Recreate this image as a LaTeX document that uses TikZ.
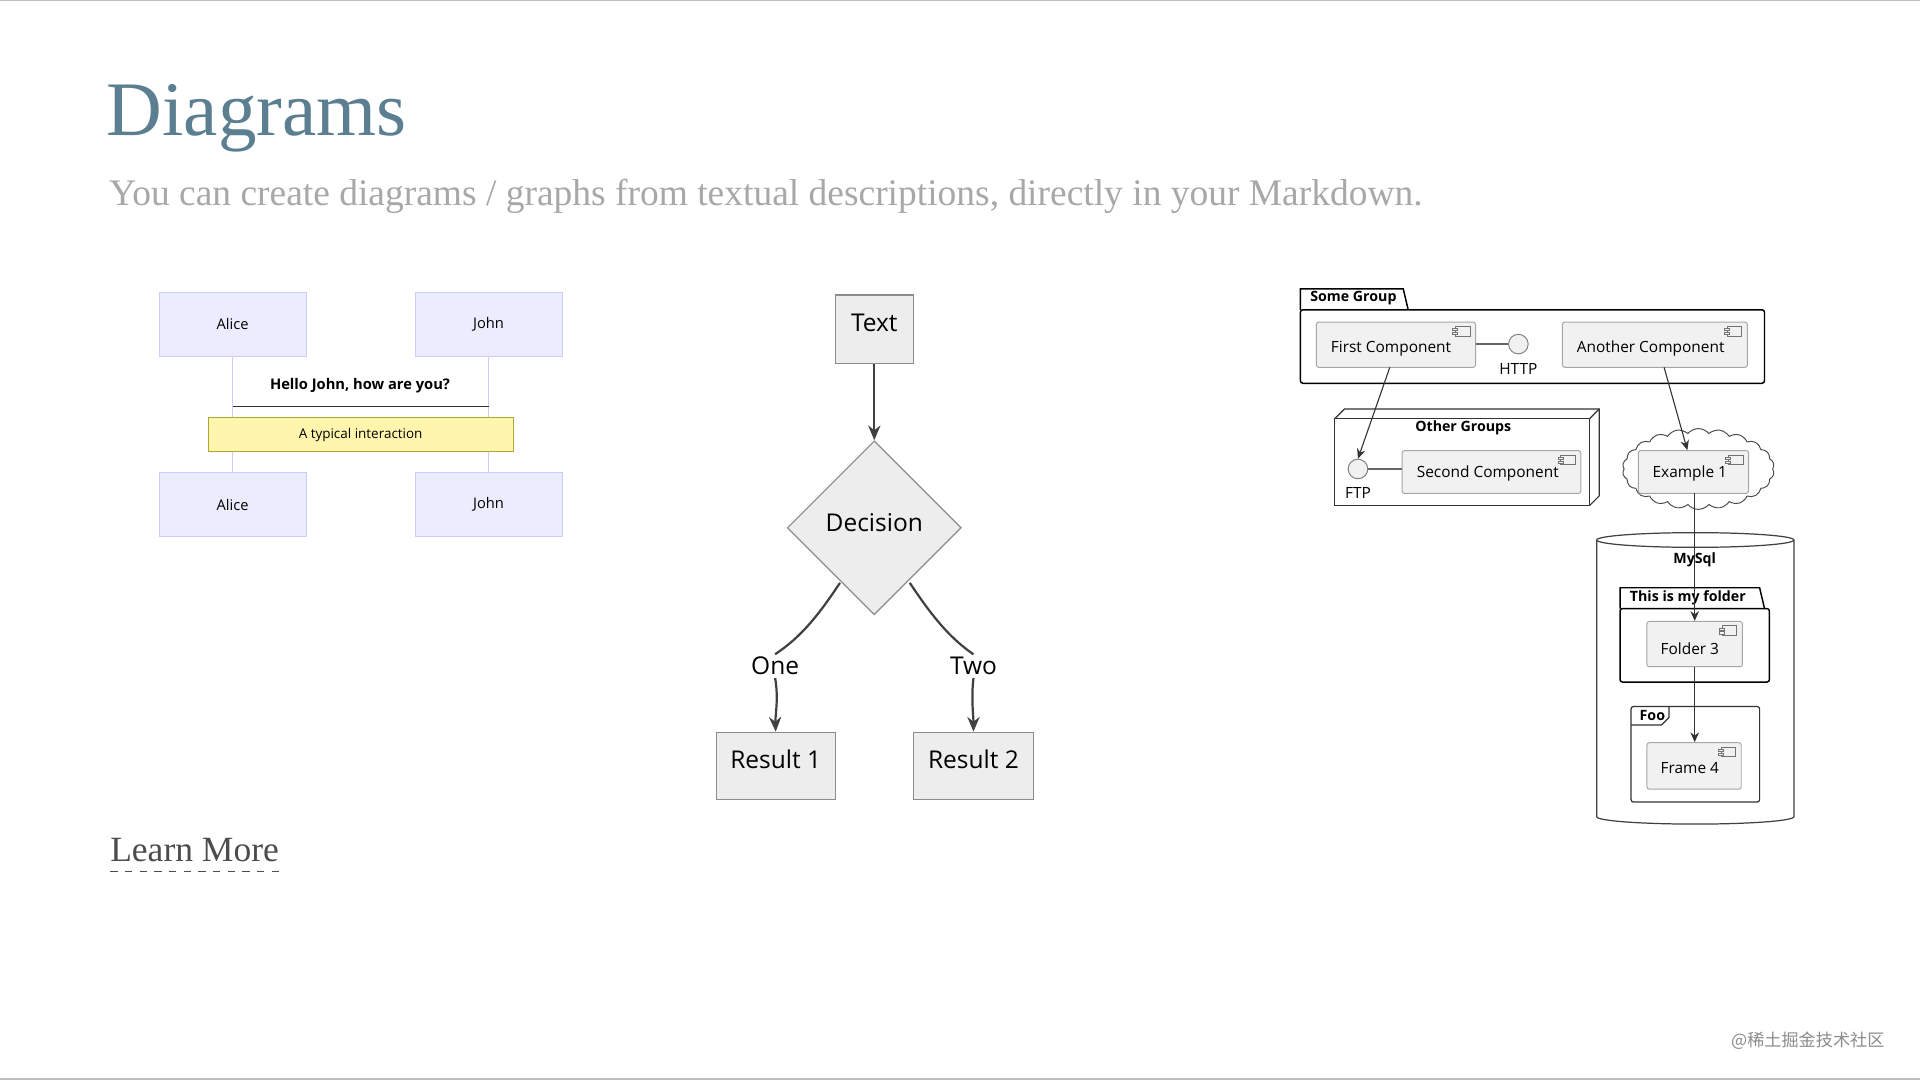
\documentclass[tikz,border=0pt]{standalone}
\usepackage{fontspec}
\setmainfont{Liberation Serif}
\newfontfamily\sansf{Open Sans}
\newfontfamily\cjk{Noto Sans CJK SC}
\usetikzlibrary{arrows.meta,shapes.geometric,shapes.symbols}
\definecolor{titlec}{HTML}{5B7F91}
\definecolor{subc}{HTML}{A8A8A8}
\definecolor{seqfill}{HTML}{ECECFF}
\definecolor{seqline}{HTML}{CCCCFF}
\definecolor{notefill}{HTML}{FFF5AD}
\definecolor{noteline}{HTML}{AAAA33}
\definecolor{cfill}{HTML}{F1F1F1}
\tikzset{
  seqbox/.style={draw=seqline,fill=seqfill,minimum width=60pt,minimum height=26pt,font=\sansf\fontsize{6}{7}\selectfont},
  flowbox/.style={draw=black!45,fill=black!7,font=\sansf\fontsize{10}{12}\selectfont,line width=0.5pt},
  comp/.style={draw=black!35,fill=cfill,rounded corners=1pt,font=\sansf\fontsize{6.3}{7}\selectfont,line width=0.4pt},
  grp/.style={draw=black,line width=0.6pt},
  grptitle/.style={font=\sansf\bfseries\fontsize{5.8}{7}\selectfont},
  arr/.style={-{Stealth[length=4pt,width=3.5pt]},black!80,line width=0.45pt},
  farr/.style={-{Stealth[length=6pt,width=5pt]},black!75,line width=0.9pt},
  lbl/.style={font=\sansf\fontsize{6.3}{7}\selectfont},
}
\newcommand{\compicon}[1]{\draw[black!55,line width=0.3pt,fill=cfill] ([xshift=-8.5pt,yshift=-2pt]#1.north east) rectangle ++(6pt,-4pt);
 \draw[black!55,line width=0.3pt,fill=cfill] ([xshift=-9.5pt,yshift=-2.9pt]#1.north east) rectangle ++(2pt,-0.9pt);
 \draw[black!55,line width=0.3pt,fill=cfill] ([xshift=-9.5pt,yshift=-4.4pt]#1.north east) rectangle ++(2pt,-0.9pt);}
\begin{document}
\begin{tikzpicture}[x=0.5pt,y=-0.5pt]
\path[use as bounding box,fill=white] (0,0) rectangle (1568,882);
\draw[black!25,line width=0.6pt] (0,0.5) -- (1568,0.5);
\draw[black!25,line width=0.6pt] (0,881) -- (1568,881);
% header
\node[anchor=west,text=titlec,font=\fontsize{31.5}{36}\selectfont] (title) at (80,97) {Diagrams};
\node[anchor=west,text=subc,font=\fontsize{15.3}{18}\selectfont] (sub) at (82,160) {You can create diagrams / graphs from textual descriptions, directly in your Markdown.};
\node[anchor=west,text=black!70,font=\fontsize{14.5}{16}\selectfont] (learn) at (83,694) {Learn More};
\draw[black!70,dashed,line width=0.5pt] (90,712) -- (233,712);
\node[anchor=east,text=black!45,font=\cjk\fontsize{7}{8}\selectfont] (wm) at (1546,850) {@稀土掘金技术社区};
% sequence
\draw[seqline,line width=0.6pt] (190,290) -- (190,386);
\draw[seqline,line width=0.6pt] (399,290) -- (399,386);
\node[seqbox] (a1) at (190,265) {Alice};
\node[seqbox] (j1) at (399,265) {John};
\node[seqbox] (a2) at (190,412) {Alice};
\node[seqbox] (j2) at (399,412) {John};
\draw[black!80,line width=0.6pt] (190,332) -- (399,332);
\node[font=\sansf\bfseries\fontsize{6}{7}\selectfont] (msg) at (294,315) {Hello John, how are you?};
\node[draw=noteline,fill=notefill,minimum width=124.5pt,minimum height=14pt,font=\sansf\fontsize{5.5}{7}\selectfont] (note) at (294.5,355) {A typical interaction};
% flowchart
\node[flowbox,minimum width=32pt,minimum height=28pt] (text) at (714,269) {};
\node[font=\sansf\fontsize{10}{12}\selectfont] at (714,264) {Text};
\node[flowbox,diamond,minimum width=71pt,minimum height=71pt,inner sep=0pt] (dec) at (714,431) {};
\node[font=\sansf\fontsize{10}{12}\selectfont] at (714,427) {Decision};
\node[flowbox,minimum width=48.5pt,minimum height=27.5pt] (r1) at (633.5,625.5) {};
\node[font=\sansf\fontsize{10}{12}\selectfont] at (633.5,620) {Result 1};
\node[flowbox,minimum width=49pt,minimum height=27.5pt] (r2) at (795,625.5) {};
\node[font=\sansf\fontsize{10}{12}\selectfont] at (795,620) {Result 2};
\node[font=\sansf\fontsize{10}{12}\selectfont,fill=white,inner sep=1pt] (one) at (633,544) {One};
\node[font=\sansf\fontsize{10}{12}\selectfont,fill=white,inner sep=1pt] (two) at (795,544) {Two};
\draw[farr] (text) -- (dec);
\draw[black!75,line width=0.9pt] (686,476) .. controls (670,500) and (655,520) .. (one.north);
\draw[farr] (one.south) .. controls (636,570) and (633,585) .. (r1.north);
\draw[black!75,line width=0.9pt] (743,476) .. controls (759,500) and (774,520) .. (two.north);
\draw[farr] (two.south) .. controls (793,570) and (795,585) .. (r2.north);
% components
\draw[grp] (1062,253) -- (1062,236) -- (1146,236) -- (1150,253);
\node[grptitle,anchor=west] (sg) at (1063,243.5) {Some Group};
\draw[grp,rounded corners=1pt] (1062,253) rectangle (1441,313);
\node[comp,minimum width=65pt,minimum height=18.5pt] (first) at (1140,281.5) {};
\node[lbl] at (1136,285) {First Component};
\compicon{first}
\node[comp,minimum width=75.5pt,minimum height=18.5pt] (another) at (1351.5,281.5) {};
\node[lbl] at (1348,285) {Another Component};
\compicon{another}
\node[draw=black!50,fill=cfill,circle,minimum size=8pt,inner sep=0pt] (http) at (1240,281) {};
\node[lbl] (httpl) at (1240,301) {HTTP};
\draw[black!60,line width=0.5pt] (first.east |- http) -- (http);
% Other groups 3D
\draw[black!80,line width=0.5pt] (1090,342) -- (1098,334) -- (1306,334) -- (1306,405) -- (1298,413);
\draw[black!80,line width=0.5pt] (1298,342) -- (1306,334);
\draw[black!80,line width=0.5pt] (1090,342) rectangle (1298,413);
\node[grptitle] (og) at (1195,349) {Other Groups};
\node[comp,minimum width=73pt,minimum height=17.5pt] (second) at (1218,385.5) {};
\node[lbl] at (1215,387) {Second Component};
\compicon{second}
\node[draw=black!50,fill=cfill,circle,minimum size=8pt,inner sep=0pt] (ftp) at (1109,383) {};
\node[lbl] (ftpl) at (1109,403) {FTP};
\draw[black!60,line width=0.5pt] (ftp) -- (second.west |- ftp);
% cloud
\node[cloud,cloud puffs=22,cloud puff arc=100,aspect=2.2,draw=black!70,line width=0.4pt,minimum width=62pt,minimum height=33pt] (cloudn) at (1387,383) {};
\node[comp,minimum width=45pt,minimum height=17.5pt] (ex) at (1383,385.5) {};
\node[lbl] at (1380,387) {Example 1};
\compicon{ex}
% cylinder
\draw[black!75,line width=0.5pt] (1304,441) -- (1304,667) arc[start angle=180,end angle=0,x radius=80.5,y radius=6] -- (1465,441);
\draw[black!75,line width=0.5pt,fill=white] (1384.5,441) ellipse[x radius=80.5,y radius=6];
\node[grptitle] (my) at (1384,457) {MySql};
% folder
\draw[grp] (1323,497) -- (1323,480) -- (1437,480) -- (1441,497);
\node[grptitle,anchor=west] (ft) at (1324,488) {This is my folder};
\draw[grp,rounded corners=1pt] (1323,497) rectangle (1445,557);
\node[comp,minimum width=39pt,minimum height=18.5pt] (f3) at (1384,526) {};
\node[lbl] at (1380,530) {Folder 3};
\compicon{f3}
% frame
\draw[black!80,line width=0.5pt,rounded corners=1pt] (1332,577) rectangle (1437,655);
\draw[black!80,line width=0.5pt] (1332,592) -- (1357,592) -- (1363,586) -- (1363,577);
\node[grptitle,anchor=west] (fooT) at (1332,584) {Foo};
\node[comp,minimum width=38.5pt,minimum height=19pt] (f4) at (1383.5,625.5) {};
\node[lbl] at (1380,627) {Frame 4};
\compicon{f4}
% arrows
\draw[arr] (1135,300) -- (ftp.north);
\draw[arr] (1359,300) -- (ex.north -| 1378,0);
\draw[arr] (1384,403) -- (f3.north -| 1384,0);
\draw[arr] (1384,545) -- (f4.north -| 1384,0);
\end{tikzpicture}
\end{document}
